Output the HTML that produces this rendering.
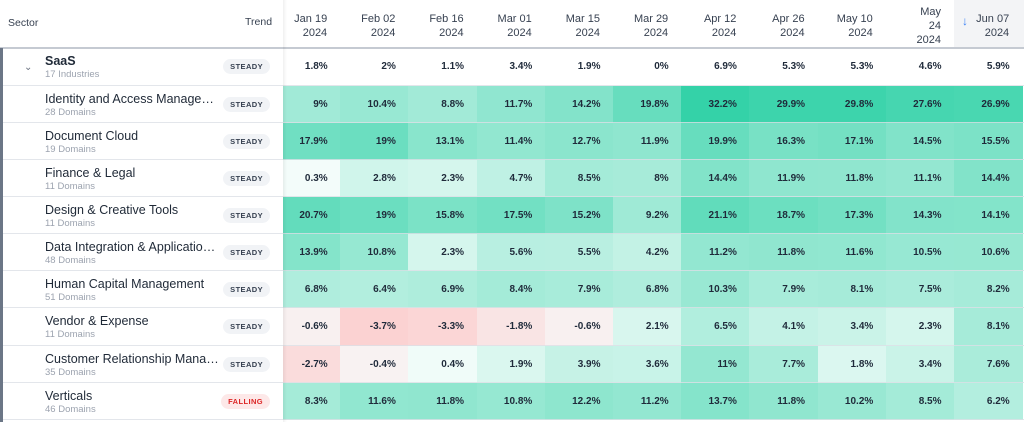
<!DOCTYPE html>
<html><head><meta charset="utf-8"><style>
*{box-sizing:border-box;margin:0;padding:0}
body{width:1024px;height:422px;overflow:hidden;background:#fff;font-family:"Liberation Sans",sans-serif;color:#1f2937;position:relative}
.abs{position:absolute}
.hdr{font-size:11px;color:#374151;text-align:right;line-height:14px}
.cell{position:absolute;font-size:10px;font-weight:bold;color:#1f2a3a;text-align:right;padding-right:13px}
.name{position:absolute;left:45px;font-size:12.5px;color:#1f2937;white-space:nowrap}
.sub{position:absolute;left:45px;font-size:9.5px;color:#9ca3af}
.badge{position:absolute;right:754px;height:15px;line-height:15px;border-radius:8px;background:#f1f3f6;font-size:7.5px;font-weight:bold;letter-spacing:.4px;padding:0 7px;color:#374151}
</style></head><body>
<div id="root"></div>
<script>
const cols=["Jan 19<br>2024","Feb 02<br>2024","Feb 16<br>2024","Mar 01<br>2024","Mar 15<br>2024","Mar 29<br>2024","Apr 12<br>2024","Apr 26<br>2024","May 10<br>2024","May<br>24<br>2024","Jun 07<br>2024"];
const rows=[
["SaaS","17 Industries","STEADY",[1.8,2,1.1,3.4,1.9,0,6.9,5.3,5.3,4.6,5.9]],
["Identity and Access Manage…","28 Domains","STEADY",[9,10.4,8.8,11.7,14.2,19.8,32.2,29.9,29.8,27.6,26.9]],
["Document Cloud","19 Domains","STEADY",[17.9,19,13.1,11.4,12.7,11.9,19.9,16.3,17.1,14.5,15.5]],
["Finance & Legal","11 Domains","STEADY",[0.3,2.8,2.3,4.7,8.5,8,14.4,11.9,11.8,11.1,14.4]],
["Design & Creative Tools","11 Domains","STEADY",[20.7,19,15.8,17.5,15.2,9.2,21.1,18.7,17.3,14.3,14.1]],
["Data Integration & Applicatio…","48 Domains","STEADY",[13.9,10.8,2.3,5.6,5.5,4.2,11.2,11.8,11.6,10.5,10.6]],
["Human Capital Management","51 Domains","STEADY",[6.8,6.4,6.9,8.4,7.9,6.8,10.3,7.9,8.1,7.5,8.2]],
["Vendor & Expense","11 Domains","STEADY",[-0.6,-3.7,-3.3,-1.8,-0.6,2.1,6.5,4.1,3.4,2.3,8.1]],
["Customer Relationship Mana…","35 Domains","STEADY",[-2.7,-0.4,0.4,1.9,3.9,3.6,11,7.7,1.8,3.4,7.6]],
["Verticals","46 Domains","FALLING",[8.3,11.6,11.8,10.8,12.2,11.2,13.7,11.8,10.2,8.5,6.2]]];
const tops=[48,86,123,160,197,234,271,308,346,383,420];
let h='';
const cw=68.2,x0=272;
h+=`<div class="abs" style="left:954px;top:0;width:70px;height:47px;background:#f3f4f6"></div>`;
h+=`<div class="abs" style="left:8px;top:17px;font-size:10.5px;color:#374151">Sector</div>`;
h+=`<div class="abs" style="left:245px;top:16px;font-size:10.5px;color:#374151">Trend</div>`;
cols.forEach((c,i)=>{const ml=c.split('<br>').length;h+=`<div class="abs hdr" style="left:${x0+i*cw}px;width:${cw-13}px;top:${ml==3?5:12}px">${c}</div>`});
h+=`<div class="abs" style="left:962px;top:14px;font-size:12px;color:#3b82f6">↓</div>`;
function col(v,i){
 if(i==0)return '#fff';
 if(v>=0){let t=Math.pow(Math.min(v/32.2,1),0.6);const a=[255,255,255],b=[52,210,168];return `rgb(${a.map((x,k)=>Math.round(x+(b[k]-x)*t)).join(',')})`}
 let t=Math.min(-v/3.7,1);const a=[248,246,246],b=[251,210,210];return `rgb(${a.map((x,k)=>Math.round(x+(b[k]-x)*t)).join(',')})`;
}
rows.forEach((r,i)=>{
 const y=tops[i],hh=tops[i+1]-tops[i];
 r[3].forEach((v,j)=>{
  h+=`<div class="cell" style="left:${x0+j*cw}px;top:${y}px;width:${cw+0.5}px;height:${hh}px;line-height:${hh}px;background:${col(v,i)}">${v}%</div>`;
 });
 h+=`<div class="abs" style="left:0;top:${y}px;width:283px;height:${hh}px;background:#fff"></div>`;
 h+=`<div class="abs" style="left:0;top:${y+hh-1}px;width:1024px;height:1px;background:rgba(220,224,230,.8)"></div>`;
 h+=`<div class="name" style="top:${y+6}px;${i==0?'font-weight:bold;font-size:12.5px':''}">${r[0].replace('&','&amp;')}</div>`;
 h+=`<div class="sub" style="top:${y+21}px">${r[1]}</div>`;
 const f=r[2]=='FALLING';
 h+=`<div class="badge" style="top:${y+11}px;${f?'background:#fde8e8;color:#dc2626':''}">${r[2]}</div>`;
});
h+=`<div class="abs" style="left:24px;top:62px;font-size:10px;color:#6b7280">&#8964;</div>`;
h+=`<div class="abs" style="left:0;top:47px;width:1024px;height:2px;background:#c5cad2"></div>`;
h+=`<div class="abs" style="left:0;top:48px;width:3px;height:374px;background:#6b7686"></div>`;
h+=`<div class="abs" style="left:283px;top:0;width:4px;height:422px;background:linear-gradient(90deg,rgba(0,0,0,.06),rgba(0,0,0,0))"></div>`;
document.getElementById('root').innerHTML=h;
</script>
</body></html>
